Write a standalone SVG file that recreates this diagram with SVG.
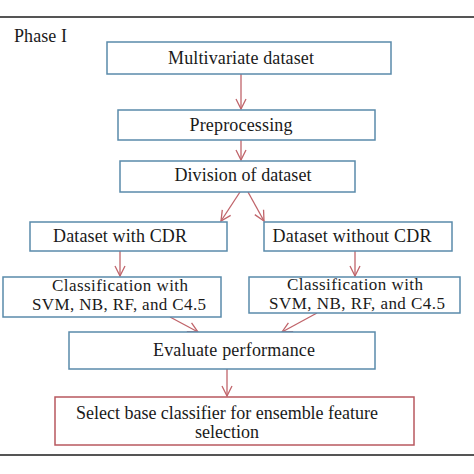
<svg xmlns="http://www.w3.org/2000/svg" width="474" height="474" viewBox="0 0 474 474">
<style>
.box{fill:#fff;stroke:#5a8aab;stroke-width:1.5}
.rbox{fill:#fff;stroke:#b8585f;stroke-width:1.5}
.t{font-family:"Liberation Serif","Times New Roman",serif;font-size:18px;fill:#1a1a1a;text-anchor:middle}
.c{stroke:#c0646a;stroke-width:1.3;fill:none}
</style>
<defs>
<marker id="ah" viewBox="0 0 12 12" refX="11" refY="6" markerWidth="12" markerHeight="12" markerUnits="userSpaceOnUse" orient="auto">
<path d="M1,1 L11,6 L1,11" fill="none" stroke="#c0646a" stroke-width="1.3"/>
</marker>
</defs>
<rect width="474" height="474" fill="#fff"/>
<line x1="0" y1="17" x2="474" y2="17" stroke="#555" stroke-width="2"/>
<line x1="0" y1="455" x2="474" y2="455" stroke="#555" stroke-width="2"/>
<text x="14" y="42" class="t" style="text-anchor:start" textLength="53">Phase I</text>
<g id="connectors">
<line class="c" x1="241" y1="74" x2="241" y2="109" marker-end="url(#ah)"/>
<line class="c" x1="241" y1="140" x2="241" y2="160" marker-end="url(#ah)"/>
<line class="c" x1="240" y1="192" x2="221" y2="221" marker-end="url(#ah)"/>
<line class="c" x1="248" y1="192" x2="264" y2="221" marker-end="url(#ah)"/>
<line class="c" x1="120" y1="251" x2="120" y2="276" marker-end="url(#ah)"/>
<line class="c" x1="355" y1="251" x2="355" y2="276" marker-end="url(#ah)"/>
<line class="c" x1="170" y1="317" x2="198" y2="332" marker-end="url(#ah)"/>
<line class="c" x1="317" y1="313" x2="282" y2="332" marker-end="url(#ah)"/>
<line class="c" x1="227" y1="369" x2="227" y2="396" marker-end="url(#ah)"/>
</g>
<g id="n1"><rect class="box" x="107" y="42" width="284" height="32"/><text class="t" x="241" y="64" textLength="146">Multivariate dataset</text></g>
<g id="n2"><rect class="box" x="118" y="110" width="257" height="30"/><text class="t" x="241" y="131" textLength="103">Preprocessing</text></g>
<g id="n3"><rect class="box" x="120" y="161" width="235" height="31"/><text class="t" x="243" y="181" textLength="137">Division of dataset</text></g>
<g id="n4"><rect class="box" x="30" y="222" width="197" height="29"/><text class="t" x="120" y="242" textLength="134">Dataset with CDR</text></g>
<g id="n5"><rect class="box" x="264" y="222" width="188" height="29"/><text class="t" x="352" y="242" textLength="159">Dataset without CDR</text></g>
<g id="n6"><rect class="box" x="3" y="277" width="218" height="40"/><text class="t" x="120" y="291" textLength="136" style="font-size:17px">Classification with</text><text class="t" x="119" y="310" textLength="174" style="font-size:17px">SVM, NB, RF, and C4.5</text></g>
<g id="n7"><rect class="box" x="249" y="277" width="211" height="36"/><text class="t" x="355" y="290" textLength="136" style="font-size:17px">Classification with</text><text class="t" x="357" y="309" textLength="176" style="font-size:17px">SVM, NB, RF, and C4.5</text></g>
<g id="n8"><rect class="box" x="69" y="332" width="306" height="37"/><text class="t" x="234" y="356" textLength="162">Evaluate performance</text></g>
<g id="n9"><rect class="rbox" x="55" y="397" width="359" height="48"/><text class="t" x="227" y="419" textLength="302">Select base classifier for ensemble feature</text><text class="t" x="227" y="438" textLength="64">selection</text></g>
</svg>
